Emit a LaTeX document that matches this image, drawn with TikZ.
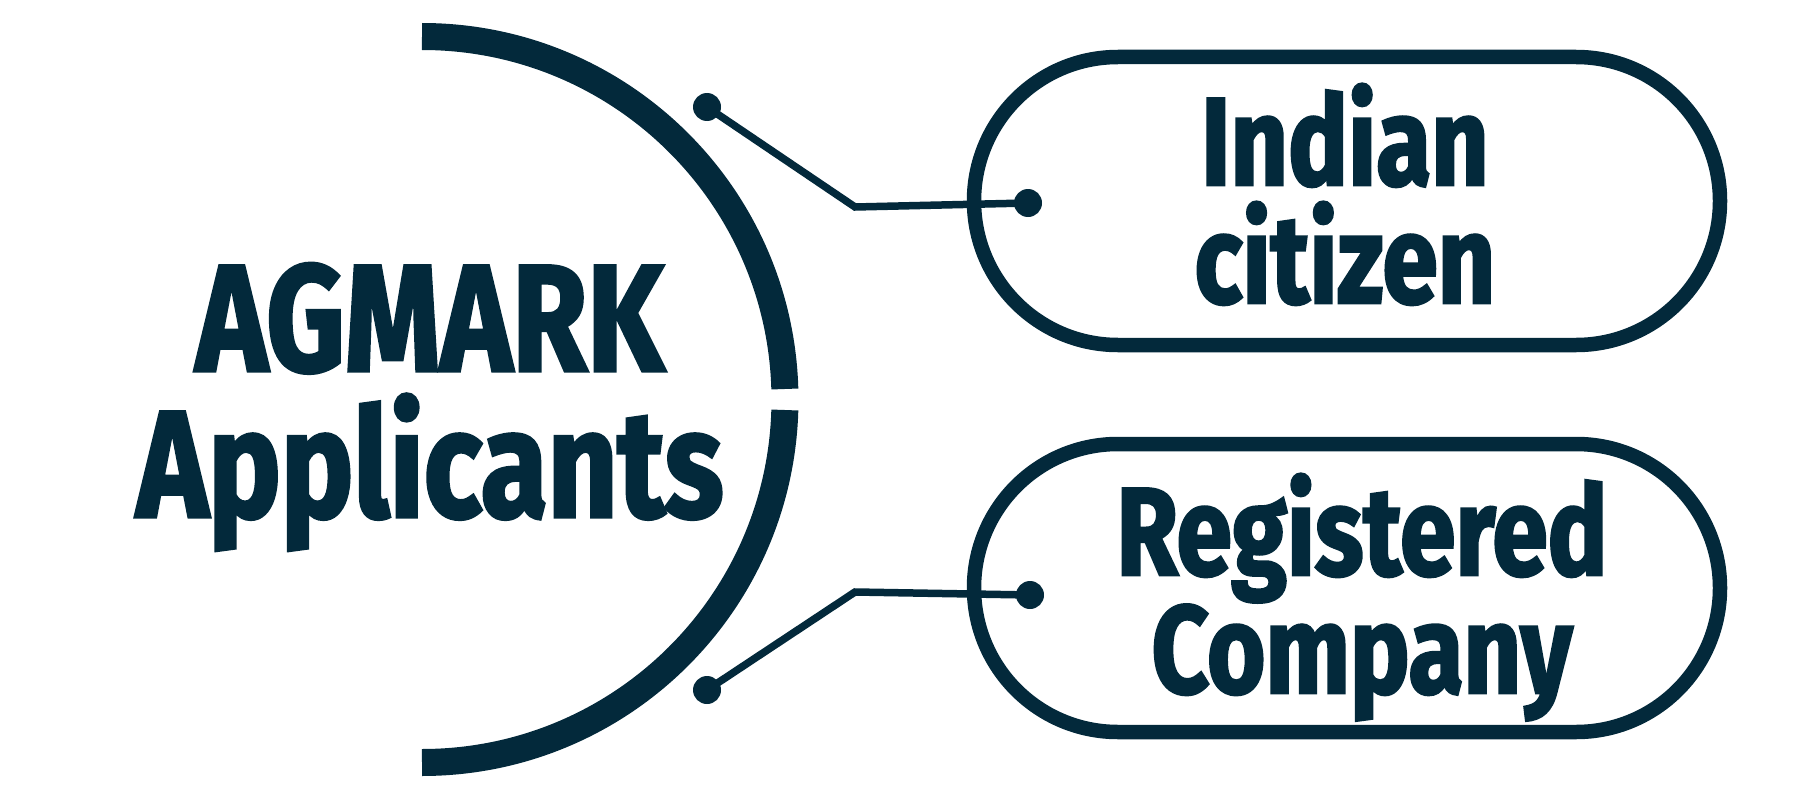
\documentclass[tikz,border=0pt]{standalone}
\usepackage{fontspec}
\setmainfont{Fira Sans}
\newfontfamily\tagfont{Fira Sans}[FakeStretch=0.8,FakeBold=2]
\definecolor{agnavy}{HTML}{03293B}

\begin{document}
\begin{tikzpicture}[x=1pt,y=-1pt,
  ring/.style={draw=agnavy,line width=27pt},
  pill/.style={draw=agnavy,line width=14.5pt,rounded corners=143.9pt,
    minimum width=746pt,minimum height=288pt,inner sep=0pt},
  dot/.style={circle,fill=agnavy,minimum size=28pt,inner sep=0pt},
  link/.style={draw=agnavy,line width=7.5pt},
  bigtext/.style={anchor=base,text=agnavy,inner sep=0pt,
    font=\tagfont\bfseries\fontsize{152}{152}\selectfont},
  pilltext/.style={anchor=base,text=agnavy,inner sep=0pt,
    font=\tagfont\bfseries\fontsize{125}{125}\selectfont}]
\useasboundingbox (0,0) rectangle (1800,800);
\coordinate (hub) at (422,399.5);
\draw[ring] (hub) ++(-90:363) arc[start angle=-90,end angle=-1.66,radius=363];
\draw[ring] (hub) ++(1.66:363) arc[start angle=1.66,end angle=90,radius=363];
\node[bigtext] (title1) at (430,371) {AGMARK};
\node[bigtext] (title2) at (430,517) {Applicants};

\node[pill] (citizen) at (1347,201) {};
\node[pill] (company) at (1347,588) {};
\node[pilltext] (cit1) at (1345,185) {Indian};
\node[pilltext] (cit2) at (1345,303) {citizen};
\node[pilltext] (reg1) at (1362,575) {Registered};
\node[pilltext] (reg2) at (1362,693) {Company};

\node[dot] (tipA) at (707,107) {};
\node[dot] (endA) at (1028,203) {};
\coordinate (bendA) at (855,207);
\draw[link] (tipA.center) -- (bendA) -- (endA.center);
\node[dot] (tipB) at (707,690) {};
\node[dot] (endB) at (1030,595) {};
\coordinate (bendB) at (855,592);
\draw[link] (tipB.center) -- (bendB) -- (endB.center);
\end{tikzpicture}
\end{document}
